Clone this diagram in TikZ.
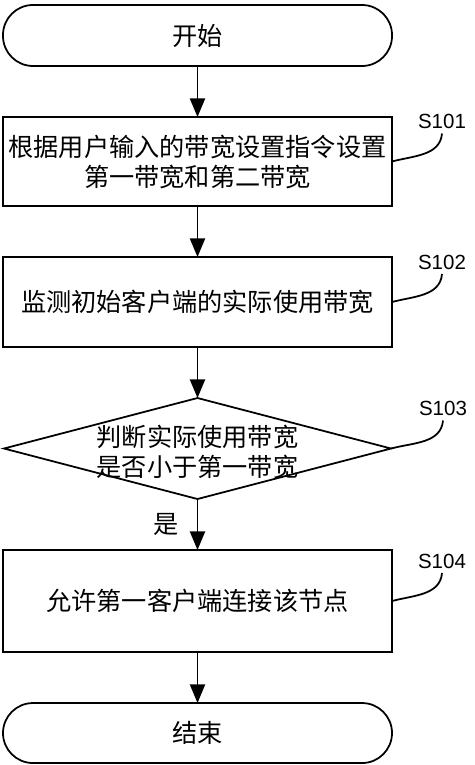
\documentclass[tikz,border=0pt]{standalone}
\usepackage{fontspec}
\setmainfont{Noto Sans CJK SC}
\newfontfamily\labfont{Liberation Sans}
\usepackage{tikz}
\usetikzlibrary{shapes.geometric,arrows.meta}
\usetikzlibrary{positioning}
\usetikzlibrary{calc}

\begin{document}
\begin{tikzpicture}[x=0.03cm,y=-0.03cm,node distance=1.53cm,line width=1.5pt,
        font=\fontsize{21.5}{25.6}\selectfont,
        term/.style={draw,rectangle,rounded corners=0.9cm,minimum width=11.67cm,minimum height=1.83cm,outer sep=0pt},
        proc/.style={draw,rectangle,minimum width=11.67cm,align=center,inner sep=1pt,outer sep=0pt},
        dia/.style={draw,diamond,minimum width=11.61cm,minimum height=3.03cm,inner sep=0pt,outer sep=0pt},
        lab/.style={font=\labfont\fontsize{17.5}{20}\selectfont,inner sep=3pt,anchor=south},
        arr/.style={-{Triangle[width=13pt,length=16pt]}}]
        \useasboundingbox (0,0) rectangle (474,765);
        % flow
        \node[term] (start) at (197.5,35.5) {开始};
        \node[proc,below=of start,minimum height=2.67cm] (s101) {根据用户输入的带宽设置指令设置\\第一带宽和第二带宽};
        \node[proc,below=of s101,minimum height=2.7cm] (s102) {监测初始客户端的实际使用带宽};
        \node[dia,below=of s102] (s103) {};
        \node[align=center] (t103) at ($(s103)+(0,3)$) {判断实际使用带宽\\是否小于第一带宽};
        \node[proc,below=of s103,minimum height=3.06cm] (s104) {允许第一客户端连接该节点};
        \node[term,below=of s104,minimum height=1.8cm] (end) {结束};
        \draw[arr] (start) -- (s101);
        \draw[arr] (s101) -- (s102);
        \draw[arr] (s102) -- (s103);
        \draw[arr] (s103) -- node[left=12pt] {是} (s104);
        \draw[arr] (s104) -- (end);
        % step labels
        \node[lab] (l101) at ($(s101.east)+(50,-28)$) {S101};
        \node[lab] (l102) at ($(s102.east)+(50,-28)$) {S102};
        \node[lab] (l103) at ($(s103.east)+(52,-28)$) {S103};
        \node[lab] (l104) at ($(s104.east)+(50,-28)$) {S104};
        \draw (s101.east) to[out=15,in=-95] (l101.south);
        \draw (s102.east) to[out=15,in=-95] (l102.south);
        \draw (s103.east) to[out=15,in=-95] (l103.south);
        \draw (s104.east) to[out=15,in=-95] (l104.south);
\end{tikzpicture}
\end{document}
